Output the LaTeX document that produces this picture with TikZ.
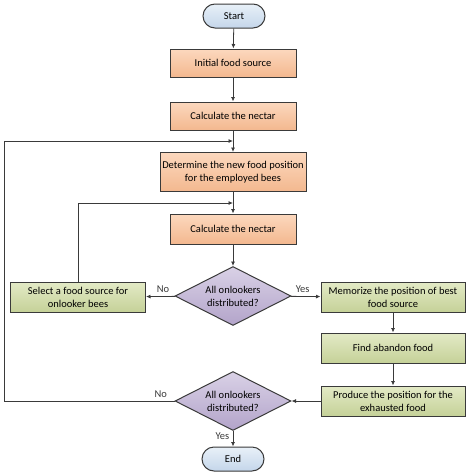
\documentclass[tikz,border=0pt]{standalone}
\usepackage{fontspec}
\setmainfont{Carlito}
\usepackage{xcolor}
\usetikzlibrary{arrows.meta,positioning,shapes.geometric,calc}
\definecolor{FlowLine}{HTML}{3A3A3A}
\definecolor{StepTop}{HTML}{FCD8BE}
\definecolor{StepBot}{HTML}{F3B88F}
\definecolor{SideTop}{HTML}{E3EAC6}
\definecolor{SideBot}{HTML}{C5D198}
\definecolor{AskTop}{HTML}{D9D1E6}
\definecolor{AskBot}{HTML}{B3A4CA}
\definecolor{EndTop}{HTML}{E8F0F8}
\definecolor{EndBot}{HTML}{C4D6EA}

\tikzset{
  flowbox/.style={draw=FlowLine,line width=1pt,align=center,inner sep=1pt,
    font=\fontsize{10.5}{13}\selectfont},
  stepbox/.style={flowbox,top color=StepTop,bottom color=StepBot,
    minimum width=126pt,minimum height=28pt},
  sidebox/.style={flowbox,top color=SideTop,bottom color=SideBot,
    minimum width=144pt,minimum height=30pt},
  askbox/.style={flowbox,diamond,aspect=2,inner sep=0pt,top color=AskTop,bottom color=AskBot,
    minimum width=116pt,minimum height=59pt},
  termbox/.style={flowbox,rounded corners=12pt,top color=EndTop,bottom color=EndBot,
    minimum width=62pt,minimum height=24pt},
  flow/.style={draw=FlowLine,line width=0.8pt,-{Latex[length=4.5pt,width=4pt]}},
  tag/.style={font=\fontsize{10.5}{13}\selectfont,text=FlowLine}
}

\begin{document}
\begin{tikzpicture}[x=1pt,y=-1pt]
  \useasboundingbox (0,0) rectangle (474,474);

  % main column
  \node[termbox] (start) at (234,16) {Start};
  \node[stepbox] (init) at (233,63) {Initial food source};
  \node[stepbox] (nectA) at (233,116) {Calculate the nectar};
  \node[stepbox,minimum width=146pt,minimum height=39pt] (employ) at (233,172)
    {Determine the new food position\\for the employed bees};
  \node[stepbox,minimum height=30pt] (nectB) at (233,229) {Calculate the nectar};
  \node[askbox] (askA) at (233,296) {All onlookers\\distributed?};
  \node[askbox] (askB) at (233,401) {All onlookers\\distributed?};
  \node[termbox] (end) at (233,459) {End};

  % side columns
  \node[sidebox,minimum width=135pt] (select) at (78,297) {Select a food source for\\onlooker bees};
  \node[sidebox] (memo) at (393,297) {Memorize the position of best\\food source};
  \node[sidebox] (abandon) at (393,348) {Find abandon food};
  \node[sidebox] (produce) at (393,401) {Produce the position for the\\exhausted food};

  % loop corners
  \coordinate (joinA) at (233,141);
  \coordinate (joinB) at (233,203);
  \coordinate (farL) at (4,401);

  \draw[flow] (start) -- (init);
  \draw[flow] (init) -- (nectA);
  \draw[flow] (nectA) -- (employ);
  \draw[flow] (employ) -- (nectB);
  \draw[flow] (nectB) -- (askA);
  \draw[flow] (askA) -- node[tag,above,pos=0.42] {No} (select);
  \draw[flow] (askA) -- node[tag,above,pos=0.4] {Yes} (memo);
  \draw[flow] (memo) -- (abandon);
  \draw[flow] (abandon) -- (produce);
  \draw[flow] (produce) -- (askB);
  \draw[flow] (askB) -- node[tag,left,pos=0.35] {Yes} (end);
  \draw[flow] (select.north) |- (joinB);
  \draw[flow] (askB.west) -- node[tag,above,pos=0.08] {No} (farL) |- (joinA);
\end{tikzpicture}
\end{document}
